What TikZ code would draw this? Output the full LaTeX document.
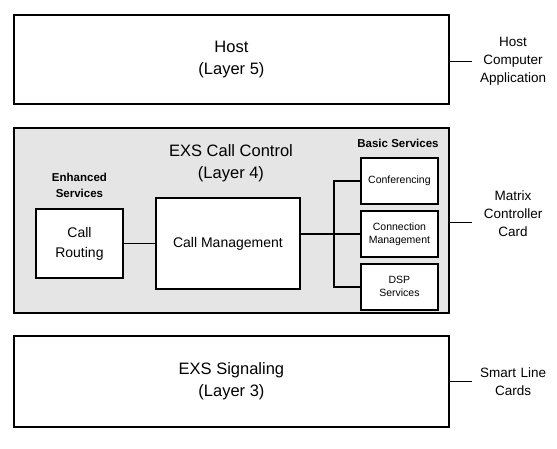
\documentclass[tikz,border=0pt]{standalone}
\usepackage{fontspec}
\setmainfont{Liberation Sans}
\usetikzlibrary{positioning}

\tikzset{
	layer/.style={draw, line width=1.9pt, minimum width=435pt, anchor=north west,
		align=center, font=\fontsize{16.5}{22}\selectfont},
	block/.style={draw, line width=1.9pt, fill=white, anchor=north west, align=center,
		inner sep=0pt, font=\fontsize{14}{20}\selectfont},
	svcbox/.style={draw, line width=1.9pt, fill=white, minimum width=77pt, minimum height=46pt,
		align=center, inner sep=0pt, font=\fontsize{10.5}{13}\selectfont},
	grouplabel/.style={align=center, font=\fontsize{11.5}{15.5}\selectfont\bfseries},
	sidelabel/.style={align=center, text width=70pt, inner sep=6pt,
		font=\fontsize{13.5}{18}\selectfont},
	link/.style={line width=1.7pt},
}

\begin{document}
\begin{tikzpicture}[x=1pt, y=-1pt]
				\useasboundingbox (0,0) rectangle (557,448);
				% layers
				\node[layer, minimum height=89pt] (host) at (13,14) {Host\\(Layer 5)};
				\node[layer, minimum height=185pt, fill=black!10] (ctrl) at (13,127) {};
				\node[layer, minimum height=91pt] (sig) at (13,335) {EXS Signaling\\(Layer 3)};
				\node[align=center, font=\fontsize{16.5}{22}\selectfont] (ctrltitle) at (231,163) {EXS Call Control\\(Layer 4)};
				% call control blocks
				\node[block, minimum width=87pt, minimum height=69pt] (routing) at (35,208) {Call\\Routing};
				\node[block, minimum width=144pt, minimum height=91pt] (mgmt) at (155,197) {Call Management};
				\node[grouplabel, above=7pt of routing] (enh) {Enhanced\\Services};
				\node[svcbox, anchor=north west] (conf) at (360,157) {Conferencing};
				\node[svcbox, below=5pt of conf] (conn) {Connection\\Management};
				\node[svcbox, below=5pt of conn] (dsp) {DSP\\Services};
				\node[grouplabel] (basic) at (398,143) {Basic Services};
				% side labels
				\node[sidelabel, right=22pt of host, yshift=-2pt] (hostlbl) {Host\\Computer\\Application};
				\node[sidelabel, right=22pt of ctrl, yshift=7pt] (mtxlbl) {Matrix\\Controller\\Card};
				\node[sidelabel, right=22pt of sig] (slclbl) {Smart Line\\Cards};
				% links
				\draw[link] (routing) -- (mgmt);
				\draw[link] (conn.west -| mgmt.east) -- (conn.west);
				\draw[link] (conf.west) -- ++(-26pt,0) coordinate (bus) -- (bus |- dsp.west) -- (dsp.west);
				\draw[link] (host.east |- hostlbl.west) -- (hostlbl.west);
				\draw[link] ([yshift=-2pt]ctrl.east) -- ([yshift=-2pt]ctrl.east -| mtxlbl.west);
				\draw[link] (sig.east) -- (slclbl.west);
\end{tikzpicture}
\end{document}
